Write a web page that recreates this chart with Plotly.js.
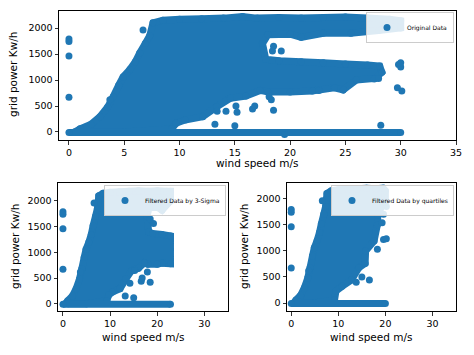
<!DOCTYPE html>
<html><head><meta charset="utf-8">
<script src="https://cdn.plot.ly/plotly-3.0.1.min.js"></script>
<style>html,body{margin:0;padding:0;background:#fff}#c{width:474px;height:355px}</style>
</head><body><div id="c"></div>
<script>
// ---- Original data (top panel): outline of the dense point cloud, zero band, isolated points
const origBlobX = [0.5,1.0,2.0,2.8,3.5,4.0,4.5,4.9,5.5,6.0,6.4,6.9,7.3,7.6,8.5,10,12,14,15.7,17,19,21,23,25,27,29,30,30,28,25.5,23,21,20,18,17.5,17.8,19,21,23,25,27,28.1,28.3,27.7,26,24.8,24,22,20,18,17.3,16,14.6,13.4,12.1,10.5,9.7,9.3,5,1];
const origBlobY = [0,60,150,295,480,680,900,1060,1200,1350,1520,1700,1850,2100,2150,2170,2180,2190,2220,2190,2200,2190,2200,2210,2190,2170,2140,2000,1950,1900,1900,1820,1880,1870,1700,1400,1370,1350,1330,1310,1290,1270,1150,1030,1000,810,850,790,770,770,800,690,650,490,295,230,170,60,0,0];
const origZeroX = [0, 30];
const origZeroY = [-10, -10];
const origOutX = [0,0,0,0,3.7,6.7,18.5,19.2,18.4,15.1,15.2,13.4,14.2,16.6,16.8,18.5,18.3,18.1,13.2,15,28.2,29.7,30.1,29.8,30,30,27.6,28,19.5,22.6];
const origOutY = [1790,1740,1460,670,620,1960,1650,1560,1560,500,380,400,400,440,500,420,620,680,150,120,130,850,790,1300,1250,1330,1020,1030,-50,800];

// ---- Filtered by 3-Sigma (bottom left)
const sigBlobX = [0.5,1.0,2.0,2.8,3.5,4.0,4.5,4.9,5.5,6.0,6.4,6.9,7.3,7.6,8.5,10,12,14,16,18,20,22,22.8,22.8,21,20,18.3,17.8,18.2,19,21,22.8,22.8,21,20,18,17.3,16,14.6,13.4,12.1,10.5,9.7,9.3,5,1];
const sigBlobY = [0,60,150,295,480,680,900,1060,1200,1350,1520,1700,1850,2100,2150,2170,2180,2190,2200,2190,2200,2190,2190,2000,1820,1880,1870,1700,1400,1370,1350,1320,780,790,770,770,800,690,650,490,295,230,170,60,0,0];
const sigZeroX = [0, 22.8];
const sigZeroY = [-10, -10];
const sigOutX = [0,0,0,0,3.7,6.6,18.5,19.2,15.2,16.6,16.8,18.5,17.9,13.2,15,14.2];
const sigOutY = [1790,1740,1460,670,620,1960,1650,1560,650,440,500,420,620,150,120,400];

// ---- Filtered by quartiles (bottom right)
const qBlobX = [0.5,1.0,2.0,2.8,3.5,4.0,4.5,4.9,5.5,6.0,6.4,6.9,7.3,7.6,8.5,10,12,14,16,18,19.5,20.0,20.0,19.0,18.4,18.3,17.6,15.8,15.7,14.4,12.8,10.8,9.5,9.2,5,1];
const qBlobY = [0,60,150,295,480,680,900,1060,1200,1350,1520,1700,1850,2100,2150,2170,2180,2190,2200,2190,2200,2150,1940,1820,1680,1500,1190,1000,760,680,440,320,230,60,0,0];
const qZeroX = [0, 20.0];
const qZeroY = [-10, -10];
const qOutX = [0,0,0,0,3.7,6.6,19.6,20.2,18.3,15,16.6,13.8,20.2,19.3,19.6];
const qOutY = [1790,1740,1460,670,620,1960,1220,1230,1030,500,440,400,1850,1540,1700];

const yTicks = [0, 500, 1000, 1500, 2000];
const xTicksTop = [0, 5, 10, 15, 20, 25, 30, 35];
const xTicksBottom = [0, 10, 20, 30];

const C = '#1f77b4';
const MS = 7;
function blob(x, y, xa, ya) {
  return {x: x, y: y, xaxis: xa, yaxis: ya, type: 'scatter', mode: 'lines+markers',
    fill: 'toself', fillcolor: C, line: {color: C, width: MS, simplify: false},
    marker: {color: C, size: MS}, showlegend: false, hoverinfo: 'skip'};
}
function band(x, y, xa, ya) {
  return {x: x, y: y, xaxis: xa, yaxis: ya, type: 'scatter', mode: 'lines+markers',
    line: {color: C, width: MS, simplify: false}, marker: {color: C, size: MS}, showlegend: false, hoverinfo: 'skip'};
}
function pts(x, y, xa, ya, name, lg) {
  return {x: x, y: y, xaxis: xa, yaxis: ya, type: 'scatter', mode: 'markers', name: name,
    legend: lg, marker: {color: C, size: MS}, showlegend: true};
}
const data = [
  blob(origBlobX, origBlobY, 'x', 'y'), band(origZeroX, origZeroY, 'x', 'y'),
  pts(origOutX, origOutY, 'x', 'y', 'Original Data', 'legend'),
  blob(sigBlobX, sigBlobY, 'x2', 'y2'), band(sigZeroX, sigZeroY, 'x2', 'y2'),
  pts(sigOutX, sigOutY, 'x2', 'y2', 'Filtered Data by 3-Sigma', 'legend2'),
  blob(qBlobX, qBlobY, 'x3', 'y3'), band(qZeroX, qZeroY, 'x3', 'y3'),
  pts(qOutX, qOutY, 'x3', 'y3', 'Filtered Data by quartiles', 'legend3')
];
const F = 'DejaVu Sans, sans-serif';
function ax(extra) {
  return Object.assign({showgrid: false, zeroline: false, showline: true, mirror: true,
    linecolor: '#000', linewidth: 1, ticks: 'outside', ticklen: 3.5, tickwidth: 0.8,
    tickcolor: '#000', tickfont: {family: F, size: 9.5, color: '#000'}, fixedrange: true}, extra);
}
function lgd(x, y) {
  return {x: x, y: y, xanchor: 'right', yanchor: 'top', xref: 'paper', yref: 'paper',
    bgcolor: 'rgba(255,255,255,0.85)', bordercolor: '#cccccc', borderwidth: 1,
    font: {family: F, size: 6, color: '#000'}, itemwidth: 30, tracegroupgap: 0};
}
const W = 474, H = 355;
function lab(text, px, py, rot) {
  const a = {text: text, x: px / W, y: 1 - py / H, xref: 'paper', yref: 'paper', showarrow: false,
    xanchor: 'center', yanchor: 'middle', font: {family: F, size: 10.5, color: '#000'}};
  if (rot) a.textangle = -90;
  return a;
}
const layout = {
  width: W, height: H, margin: {l: 0, r: 0, t: 0, b: 0},
  paper_bgcolor: '#fff', plot_bgcolor: '#fff', font: {family: F, color: '#000'},
  xaxis: ax({domain: [59 / W, 456 / W], range: [-0.9, 35], tickvals: xTicksTop, anchor: 'y'}),
  yaxis: ax({domain: [1 - 140 / H, 1 - 11 / H], range: [-154, 2327], tickvals: yTicks, anchor: 'x'}),
  xaxis2: ax({domain: [58 / W, 228 / W], range: [-1.05, 35], tickvals: xTicksBottom, anchor: 'y2'}),
  yaxis2: ax({domain: [1 - 311 / H, 1 - 183 / H], range: [-140, 2350], tickvals: yTicks, anchor: 'x2'}),
  xaxis3: ax({domain: [287 / W, 456 / W], range: [-0.9, 35], tickvals: xTicksBottom, anchor: 'y3'}),
  yaxis3: ax({domain: [1 - 311 / H, 1 - 183 / H], range: [-152, 2300], tickvals: yTicks, anchor: 'x3'}),
  legend: lgd(454 / W, 1 - 12 / H),
  legend2: lgd(226 / W, 1 - 185 / H),
  legend3: lgd(454 / W, 1 - 185 / H),
  annotations: [
    lab('wind speed m/s', 257, 163, false),
    lab('grid power Kw/h', 13, 75, true),
    lab('wind speed m/s', 143, 337, false),
    lab('grid power Kw/h', 15, 247, true),
    lab('wind speed m/s', 371, 337, false),
    lab('grid power Kw/h', 244, 247, true)
  ]
};
Plotly.newPlot('c', data, layout, {staticPlot: true, displayModeBar: false});
</script></body></html>
